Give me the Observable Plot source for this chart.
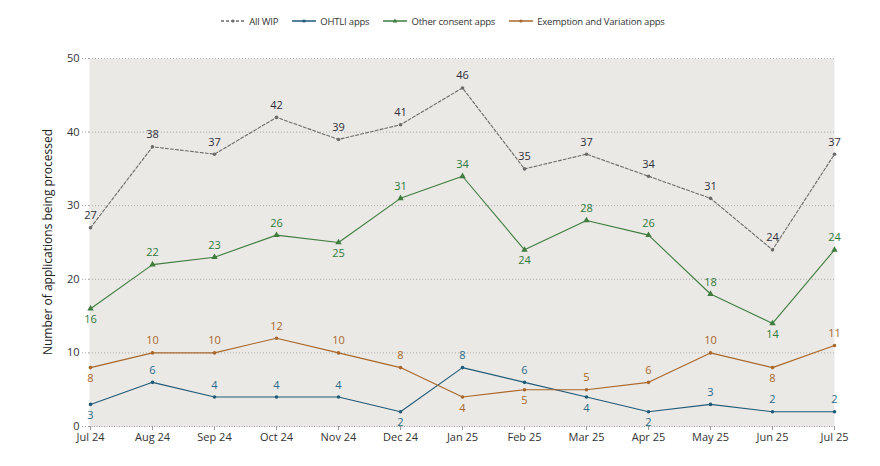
<!DOCTYPE html>
<html><head><meta charset="utf-8">
<script src="https://cdn.jsdelivr.net/npm/d3@7"></script>
<script src="https://cdn.jsdelivr.net/npm/@observablehq/plot@0.6"></script>
<style>
body{margin:0;background:#fff;font-family:"Open Sans",sans-serif;}
#legend{height:40px;display:flex;justify-content:center;align-items:center;gap:14px;font-size:9.5px;color:#333;padding-top:2px;padding-left:6px;box-sizing:border-box;letter-spacing:-0.2px;}
#legend span.item{display:flex;align-items:center;gap:4px;}
#chart svg{display:block;}
</style></head><body>
<div id="legend"></div>
<div id="chart"></div>
<script>
const months = ["Jul 24","Aug 24","Sep 24","Oct 24","Nov 24","Dec 24","Jan 25","Feb 25","Mar 25","Apr 25","May 25","Jun 25","Jul 25"];
const allWip   = [27,38,37,42,39,41,46,35,37,34,31,24,37];
const ohtli    = [3,6,4,4,4,2,8,6,4,2,3,2,2];
const other    = [16,22,23,26,25,31,34,24,28,26,18,14,24];
const exempt   = [8,10,10,12,10,8,4,5,5,6,10,8,11];
// label side: 1 = above, -1 = below
const allWipSide = [1,1,1,1,1,1,1,1,1,1,1,1,1];
const ohtliSide  = [-1,1,1,1,1,-1,1,1,-1,-1,1,1,1];
const otherSide  = [-1,1,1,1,-1,1,1,-1,1,1,1,-1,1];
const exemptSide = [-1,1,1,1,1,1,-1,-1,1,1,1,-1,1];
const yTicks = [0,10,20,30,40,50];

const series = [
  {name:"All WIP", values:allWip, side:allWipSide, color:"#6b6b6b", label:"#2e2e3a", dash:"3,2", symbol:"circle"},
  {name:"OHTLI apps", values:ohtli, side:ohtliSide, color:"#1f5a78", label:"#2a6a8a", dash:null, symbol:"circle"},
  {name:"Other consent apps", values:other, side:otherSide, color:"#3e7d3e", label:"#2f7a3a", dash:null, symbol:"triangle"},
  {name:"Exemption and Variation apps", values:exempt, side:exemptSide, color:"#a8672a", label:"#a8672a", dash:null, symbol:"circle"}
];

// legend
const leg = document.getElementById("legend");
for (const s of series) {
  const it = document.createElement("span"); it.className="item";
  const mk = s.symbol==="triangle" ? `<path d="M12,3.5 L14.3,7.5 L9.7,7.5 Z" fill="${s.color}"/>` : `<circle cx="12" cy="6" r="1.6" fill="${s.color}"/>`;
  it.innerHTML = `<svg width="24" height="12"><line x1="0" x2="24" y1="6" y2="6" stroke="${s.color}" stroke-width="1.5" ${s.dash?`stroke-dasharray="${s.dash}"`:""}/>${mk}</svg><span>${s.name}</span>`;
  leg.appendChild(it);
}

const data = series.flatMap(s => s.values.map((v,i)=>({series:s.name, month:months[i], value:v, side:s.side[i]})));

const marks = [
  Plot.frame({fill:"#ebe9e5", stroke:null}),
  Plot.ruleY(yTicks.filter(d=>d>0), {stroke:"#9a9a9a", strokeDasharray:"1,2", strokeWidth:0.8}),
  Plot.ruleY([0], {stroke:"#9a9a9a", strokeDasharray:"1,1.5", strokeWidth:1}),
  Plot.axisY({ticks:yTicks, tickSize:8, tickPadding:2, stroke:"#9a9a9a", strokeDasharray:"1,2", label:null, fontSize:11, color:"#333"}),
  Plot.axisX({tickSize:4, tickPadding:3, stroke:"#9a9a9a", label:null, fontSize:11, color:"#333"}),
];
for (const s of series) {
  const d = data.filter(r=>r.series===s.name);
  marks.push(Plot.line(d, {x:"month", y:"value", stroke:s.color, strokeWidth:1.1, strokeDasharray:s.dash||undefined}));
  marks.push(Plot.dot(d, {x:"month", y:"value", fill:s.color, r:s.symbol==="triangle"?2.4:1.8, symbol:s.symbol}));
  marks.push(Plot.text(d.filter(r=>r.side>0), {x:"month", y:"value", text:"value", dy:-12, fill:s.label, fontSize:11}));
  marks.push(Plot.text(d.filter(r=>r.side<0), {x:"month", y:"value", text:"value", dy:11, fill:s.label, fontSize:11}));
}

const chart = Plot.plot({
  width:880, height:426,
  marginLeft:89, marginRight:46, marginTop:18, marginBottom:40,
  style:{fontFamily:"'Open Sans',sans-serif", fontSize:"11px", background:"#fff"},
  x:{type:"point", domain:months, padding:0, axis:null},
  y:{domain:[0,50], axis:null},
  marks
});
document.getElementById("chart").appendChild(chart);

// y axis title
const svg = d3.select(chart);
svg.append("text").attr("transform","translate(52,202) rotate(-90)").attr("text-anchor","middle")
  .attr("font-size",12).attr("fill","#222").text("Number of applications being processed");
</script>
</body></html>
